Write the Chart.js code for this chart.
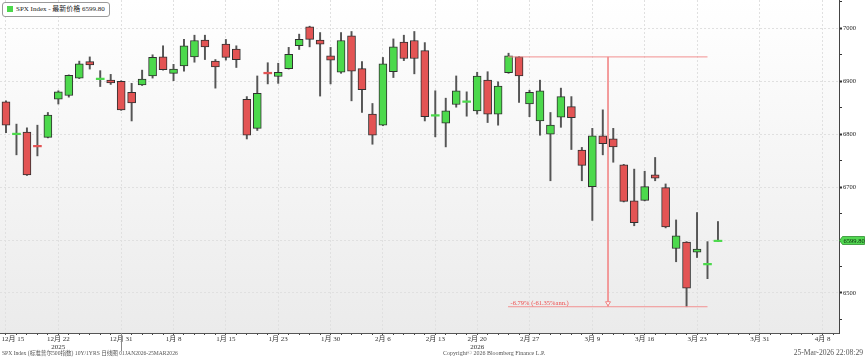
<!DOCTYPE html>
<html>
<head>
<meta charset="utf-8">
<script src="https://cdn.jsdelivr.net/npm/chart.js@4.4.1/dist/chart.umd.min.js"></script>
<style>
html,body{margin:0;padding:0;background:#fff;}
#wrap{position:relative;width:865px;height:357px;overflow:hidden;font-family:"Liberation Serif","Noto Sans CJK SC",serif;}
#c{position:absolute;left:0;top:0;}
.legend{position:absolute;left:2px;top:2px;height:13px;padding:0 4px 0 4px;border:1px solid #9a9a9a;border-radius:3px;background:#fff;font-size:7px;line-height:13px;color:#222;white-space:nowrap;}
.legend i{display:inline-block;width:6px;height:6px;background:#4cd94c;margin-right:3px;vertical-align:-0.5px;}
.foot{position:absolute;top:350px;font-size:6px;line-height:7px;color:#555;white-space:nowrap;}
</style>
</head>
<body>
<div id="wrap">
<canvas id="c" width="865" height="357"></canvas>
<div class="legend"><i></i>SPX Index - 最新价格 6599.80</div>
<div class="foot" style="left:2px;font-size:5.6px">SPX Index (标准普尔500指数) 10Y/1YRS 日线图 01JAN2026-25MAR2026</div>
<div class="foot" style="left:443px">Copyright© 2026 Bloomberg Finance L.P.</div>
<div class="foot" style="right:2px;font-size:7.6px;top:349px">25-Mar-2026 22:08:29</div>
</div>
<script>
// ---- data ----
const dates = ["2025-12-15","2025-12-16","2025-12-17","2025-12-18","2025-12-19","2025-12-22","2025-12-23","2025-12-24","2025-12-26","2025-12-29","2025-12-30","2025-12-31",
"2026-01-02","2026-01-05","2026-01-06","2026-01-07","2026-01-08","2026-01-09","2026-01-12","2026-01-13","2026-01-14","2026-01-15","2026-01-16","2026-01-20","2026-01-21","2026-01-22","2026-01-23","2026-01-26","2026-01-27","2026-01-28","2026-01-29","2026-01-30",
"2026-02-02","2026-02-03","2026-02-04","2026-02-05","2026-02-06","2026-02-09","2026-02-10","2026-02-11","2026-02-12","2026-02-13","2026-02-17","2026-02-18","2026-02-19","2026-02-20","2026-02-23","2026-02-24","2026-02-25","2026-02-26","2026-02-27",
"2026-03-02","2026-03-03","2026-03-04","2026-03-05","2026-03-06","2026-03-09","2026-03-10","2026-03-11","2026-03-12","2026-03-13","2026-03-16","2026-03-17","2026-03-18","2026-03-19","2026-03-20","2026-03-23","2026-03-24","2026-03-25"];
const futureDates = ["2026-03-26","2026-03-27","2026-03-30","2026-03-31","2026-04-01","2026-04-02","2026-04-03","2026-04-06","2026-04-07","2026-04-08","2026-04-09"];

const opens  = [6861,6799,6804,6779,6794,6866,6873,6906,6937,6903,6902,6900,
6879,6893,6910,6946,6915,6929,6946,6978,6938,6970,6961,6866,6811,6917,6909,6924,6967,7003,6978,6948,
6917,6986,6924,6838,6817,6918,6974,6977,6958,6834,6821,6856,6860,6844,6902,6838,6916,6946,6857,
6825,6800,6832,6852,6770,6701,6797,6791,6742,6674,6675,6723,6699,6584,6596,6577,6553,6597];
const highs  = [6863,6819,6812,6817,6841,6882,6912,6938,6946,6920,6913,6901,
6896,6921,6950,6967,6932,6979,6987,6987,6941,6979,6967,6871,6910,6935,6934,6964,6989,7004,6992,6964,
6992,6994,6937,6858,6945,6980,6987,6994,6973,6882,6868,6910,6880,6917,6918,6899,6953,6947,6883,
6902,6841,6887,6871,6775,6811,6846,6811,6743,6734,6730,6756,6706,6638,6597,6652,6597,6635];
const lows   = [6803,6761,6722,6759,6793,6857,6870,6905,6923,6890,6894,6845,
6825,6892,6906,6921,6901,6919,6936,6941,6887,6940,6926,6791,6807,6895,6896,6923,6960,6965,6872,6895,
6915,6863,6841,6781,6816,6907,6939,6914,6825,6795,6776,6851,6834,6838,6822,6817,6915,6860,6833,
6798,6712,6813,6771,6712,6637,6761,6747,6672,6627,6674,6712,6623,6559,6474,6567,6527,6597];
const closes = [6817,6802,6723,6776,6836,6880,6911,6933,6931,6906,6897,6846,
6859,6904,6945,6922,6923,6967,6977,6965,6927,6945,6941,6798,6877,6914,6917,6951,6979,6979,6970,6940,
6977,6919,6884,6798,6933,6965,6943,6943,6833,6837,6844,6882,6863,6910,6838,6891,6948,6910,6879,
6882,6817,6871,6831,6741,6797,6782,6776,6673,6633,6701,6717,6625,6608,6509,6583,6556,6599.80];

const tickDates  = ["2025-12-15","2025-12-22","2025-12-31","2026-01-08","2026-01-15","2026-01-23","2026-01-30","2026-02-06","2026-02-13","2026-02-20","2026-02-27","2026-03-09","2026-03-16","2026-03-23","2026-03-31","2026-04-08"];
const tickLabels = ["12月 15","12月 22","12月 31","1月 8","1月 15","1月 23","1月 30","2月 6","2月 13","2月 20","2月 27","3月 9","3月 16","3月 23","3月 31","4月 8"];
const yearTickDates  = ["2025-12-22","2026-02-20"];
const yearTickLabels = ["2025","2026"];
const yearBreakDate = "2025-12-31";

const yTicks = [6450,6500,6550,6600,6650,6700,6750,6800,6850,6900,6950,7000,7050];

const measureFromDate = "2026-02-25";
const measureToDate   = "2026-03-24";
const measureHigh = 6946;
const measureLow  = 6474;
const measureText = "-6.79% (-61.35%ann.)";
const lastPriceText = "6599.80";

// ---- build ----
const axisDates = dates.concat(futureDates);
const idxOf = d => axisDates.indexOf(d);
const tickMap = {};
tickDates.forEach((d,k)=>{ tickMap[idxOf(d)] = tickLabels[k]; });
yearTickDates.forEach((d,k)=>{ const i = idxOf(d); tickMap[i] = [tickMap[i], yearTickLabels[k]]; });
if (tickMap[0]) tickMap[0] = "\u2002\u2002\u2002\u2002" + tickMap[0];

const mFrom = idxOf(measureFromDate), mTo = idxOf(measureToDate), mMid = (mFrom + mTo) / 2;

const GREEN = '#4cd94c', RED = '#e35454';
const isDoji = i => Math.abs(opens[i] - closes[i]) < 4;
const FONT = "'Liberation Serif','Noto Sans CJK SC',serif";

const decor = {
  id: 'decor',
  beforeDraw(chart) {
    const {ctx, chartArea: a} = chart;
    const g = ctx.createLinearGradient(0, a.top, 0, a.bottom);
    g.addColorStop(0, '#ffffff'); g.addColorStop(1, '#ebebeb');
    ctx.save(); ctx.fillStyle = g; ctx.fillRect(a.left, a.top, a.right - a.left, a.bottom - a.top); ctx.restore();
  },
  afterDraw(chart) {
    const {ctx, chartArea: a, scales: {x, y}} = chart;
    ctx.save();
    const bx = Math.round(x.getPixelForValue(idxOf(yearBreakDate))) + 0.5;
    ctx.strokeStyle = '#8a8a8a'; ctx.lineWidth = 1;
    ctx.beginPath(); ctx.moveTo(bx, a.bottom); ctx.lineTo(bx, 351); ctx.stroke();
    const ly = y.getPixelForValue(measureLow);
    ctx.fillStyle = '#ee4c4c';
    ctx.font = "6.5px " + FONT;
    ctx.textBaseline = 'alphabetic'; ctx.textAlign = 'left';
    ctx.fillText(measureText, x.getPixelForValue(mFrom) + 2, ly - 2);
    const tx = x.getPixelForValue(mMid);
    ctx.beginPath(); ctx.moveTo(tx - 2.5, ly - 5); ctx.lineTo(tx + 2.5, ly - 5); ctx.lineTo(tx, ly - 1); ctx.closePath();
    ctx.fillStyle = '#fff'; ctx.fill(); ctx.strokeStyle = '#f08080'; ctx.stroke();
    const py = Math.round(y.getPixelForValue(closes[closes.length - 1])) + 0.5;
    const L = a.right + 0.5, R = 864.5;
    ctx.beginPath(); ctx.moveTo(L, py); ctx.lineTo(L + 3, py - 4); ctx.lineTo(R, py - 4); ctx.lineTo(R, py + 4); ctx.lineTo(L + 3, py + 4); ctx.closePath();
    ctx.fillStyle = '#52d852'; ctx.fill(); ctx.strokeStyle = '#2f8f2f'; ctx.lineWidth = 0.8; ctx.stroke();
    ctx.fillStyle = '#0a2a0a'; ctx.font = "6.5px " + FONT; ctx.textBaseline = 'middle';
    ctx.fillText(lastPriceText, L + 4, py + 0.5);
    ctx.restore();
  }
};

const measureLine = (data) => ({
  type: 'line', order: 0, data, borderColor: '#f29090', borderWidth: 1, pointRadius: 0, fill: false, tension: 0
});

new Chart(document.getElementById('c'), {
  type: 'bar',
  data: {
    datasets: [
      {
        label: 'body', order: 1, grouped: false, barThickness: 8, borderSkipped: false,
        data: dates.map((d, i) => ({x: i, y: [opens[i], closes[i]]})),
        backgroundColor: c => closes[c.dataIndex] >= opens[c.dataIndex] ? GREEN : RED,
        borderColor: '#303030',
        borderWidth: c => isDoji(c.dataIndex) ? 0 : 1
      },
      {
        label: 'wick', order: 2, grouped: false, barThickness: 1.3, borderWidth: 0,
        data: dates.map((d, i) => ({x: i, y: [lows[i], highs[i]]})),
        backgroundColor: '#555555'
      },
      measureLine([{x: mFrom - 0.05, y: measureHigh}, {x: mTo, y: measureHigh}]),
      measureLine([{x: mFrom - 0.05, y: measureLow}, {x: mTo, y: measureLow}]),
      measureLine([{x: mMid, y: measureHigh}, {x: mMid, y: measureLow}])
    ]
  },
  options: {
    responsive: false, animation: false, events: [],
    layout: {padding: 0, autoPadding: false},
    plugins: {legend: {display: false}, tooltip: {enabled: false}, title: {display: false}},
    scales: {
      x: {
        type: 'linear', min: -0.573, max: 79.56, offset: false,
        afterBuildTicks: s => { s.ticks = axisDates.map((d, i) => ({value: i})); },
        afterFit: s => { s.height = 24; s.paddingLeft = 0; s.paddingRight = 0; },
        ticks: {
          autoSkip: false, maxRotation: 0, minRotation: 0, padding: 0, color: '#333',
          font: {family: FONT, size: 7, lineHeight: 1.15},
          callback: v => tickMap[v] !== undefined ? tickMap[v] : ''
        },
        grid: {
          offset: false, drawTicks: true, tickLength: 2, lineWidth: 1, tickColor: '#444', tickWidth: 1,
          color: c => (c.tick && tickMap[c.tick.value] !== undefined) ? '#e0e0e0' : 'rgba(0,0,0,0)'
        },
        border: {display: true, color: '#555', width: 1, dash: [2, 2]}
      },
      y: {
        type: 'linear', position: 'right', min: 6424.4, max: 7053.5, beginAtZero: false,
        afterBuildTicks: s => { s.ticks = yTicks.map(v => ({value: v})); },
        afterFit: s => { s.width = 26; s.paddingTop = 0; s.paddingBottom = 0; },
        ticks: {
          padding: 1, color: '#222', font: {family: FONT, size: 6.5},
          callback: v => v % 100 === 0 ? String(v) : ''
        },
        grid: {
          drawTicks: true, tickLength: 3, lineWidth: 1, tickColor: '#333',
          tickWidth: c => (c.tick && c.tick.value % 100 === 0) ? 2 : 1,
          color: c => (c.tick && c.tick.value % 100 === 0) ? '#e0e0e0' : 'rgba(0,0,0,0)'
        },
        border: {display: true, color: '#444', width: 1, dash: [2, 2]}
      }
    }
  },
  plugins: [decor]
});
</script>
</body>
</html>
